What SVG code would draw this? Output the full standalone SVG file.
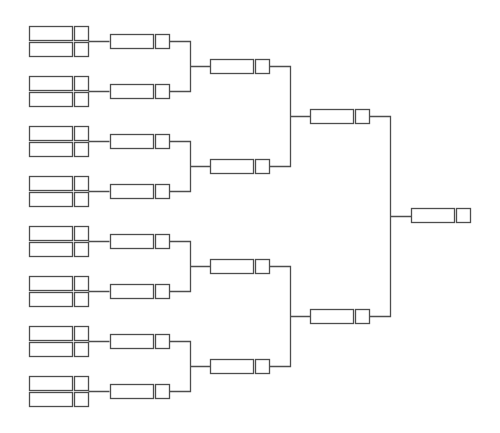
<svg xmlns="http://www.w3.org/2000/svg" xmlns:xlink="http://www.w3.org/1999/xlink" width="500" height="433" viewBox="0 0 500 433">
<style>
rect.b{fill:#fff;stroke:#4d4d4d;stroke-width:1.3}
.c path{fill:none;stroke:#4d4d4d;stroke-width:1.3}
</style>
<defs>
<g id="slot"><rect class="b" x="0" y="0" width="43" height="14"/><rect class="b" x="45" y="0" width="14" height="14"/></g>
</defs>
<rect width="500" height="433" fill="#fff"/>
<g class="c" id="connectors">
<path d="M88.5 41.5H109.5M88.5 91.5H109.5M88.5 141.5H109.5M88.5 191.5H109.5M88.5 241.5H109.5M88.5 291.5H109.5M88.5 341.5H109.5M88.5 391.5H109.5"/>
<path d="M169.5 41.5H190.5V91.5H169.5M190.5 66.5H210.5"/>
<path d="M169.5 141.5H190.5V191.5H169.5M190.5 166.5H210.5"/>
<path d="M169.5 241.5H190.5V291.5H169.5M190.5 266.5H210.5"/>
<path d="M169.5 341.5H190.5V391.5H169.5M190.5 366.5H210.5"/>
<path d="M269.5 66.5H290.5V166.5H269.5M290.5 116.5H310.5"/>
<path d="M269.5 266.5H290.5V366.5H269.5M290.5 316.5H310.5"/>
<path d="M369.5 116.5H390.5V316.5H369.5M390.5 216.5H411.5"/>
</g>
<g id="r1-1"><use xlink:href="#slot" x="29.5" y="26.5"/><use xlink:href="#slot" x="29.5" y="42.5"/></g>
<g id="r1-2"><use xlink:href="#slot" x="29.5" y="76.5"/><use xlink:href="#slot" x="29.5" y="92.5"/></g>
<g id="r1-3"><use xlink:href="#slot" x="29.5" y="126.5"/><use xlink:href="#slot" x="29.5" y="142.5"/></g>
<g id="r1-4"><use xlink:href="#slot" x="29.5" y="176.5"/><use xlink:href="#slot" x="29.5" y="192.5"/></g>
<g id="r1-5"><use xlink:href="#slot" x="29.5" y="226.5"/><use xlink:href="#slot" x="29.5" y="242.5"/></g>
<g id="r1-6"><use xlink:href="#slot" x="29.5" y="276.5"/><use xlink:href="#slot" x="29.5" y="292.5"/></g>
<g id="r1-7"><use xlink:href="#slot" x="29.5" y="326.5"/><use xlink:href="#slot" x="29.5" y="342.5"/></g>
<g id="r1-8"><use xlink:href="#slot" x="29.5" y="376.5"/><use xlink:href="#slot" x="29.5" y="392.5"/></g>
<g id="r2-1"><use xlink:href="#slot" x="110.5" y="34.5"/></g>
<g id="r2-2"><use xlink:href="#slot" x="110.5" y="84.5"/></g>
<g id="r2-3"><use xlink:href="#slot" x="110.5" y="134.5"/></g>
<g id="r2-4"><use xlink:href="#slot" x="110.5" y="184.5"/></g>
<g id="r2-5"><use xlink:href="#slot" x="110.5" y="234.5"/></g>
<g id="r2-6"><use xlink:href="#slot" x="110.5" y="284.5"/></g>
<g id="r2-7"><use xlink:href="#slot" x="110.5" y="334.5"/></g>
<g id="r2-8"><use xlink:href="#slot" x="110.5" y="384.5"/></g>
<g id="r3-1"><use xlink:href="#slot" x="210.5" y="59.5"/></g>
<g id="r3-2"><use xlink:href="#slot" x="210.5" y="159.5"/></g>
<g id="r3-3"><use xlink:href="#slot" x="210.5" y="259.5"/></g>
<g id="r3-4"><use xlink:href="#slot" x="210.5" y="359.5"/></g>
<g id="r4-1"><use xlink:href="#slot" x="310.5" y="109.5"/></g>
<g id="r4-2"><use xlink:href="#slot" x="310.5" y="309.5"/></g>
<g id="final"><use xlink:href="#slot" x="411.5" y="208.5"/></g>
</svg>
